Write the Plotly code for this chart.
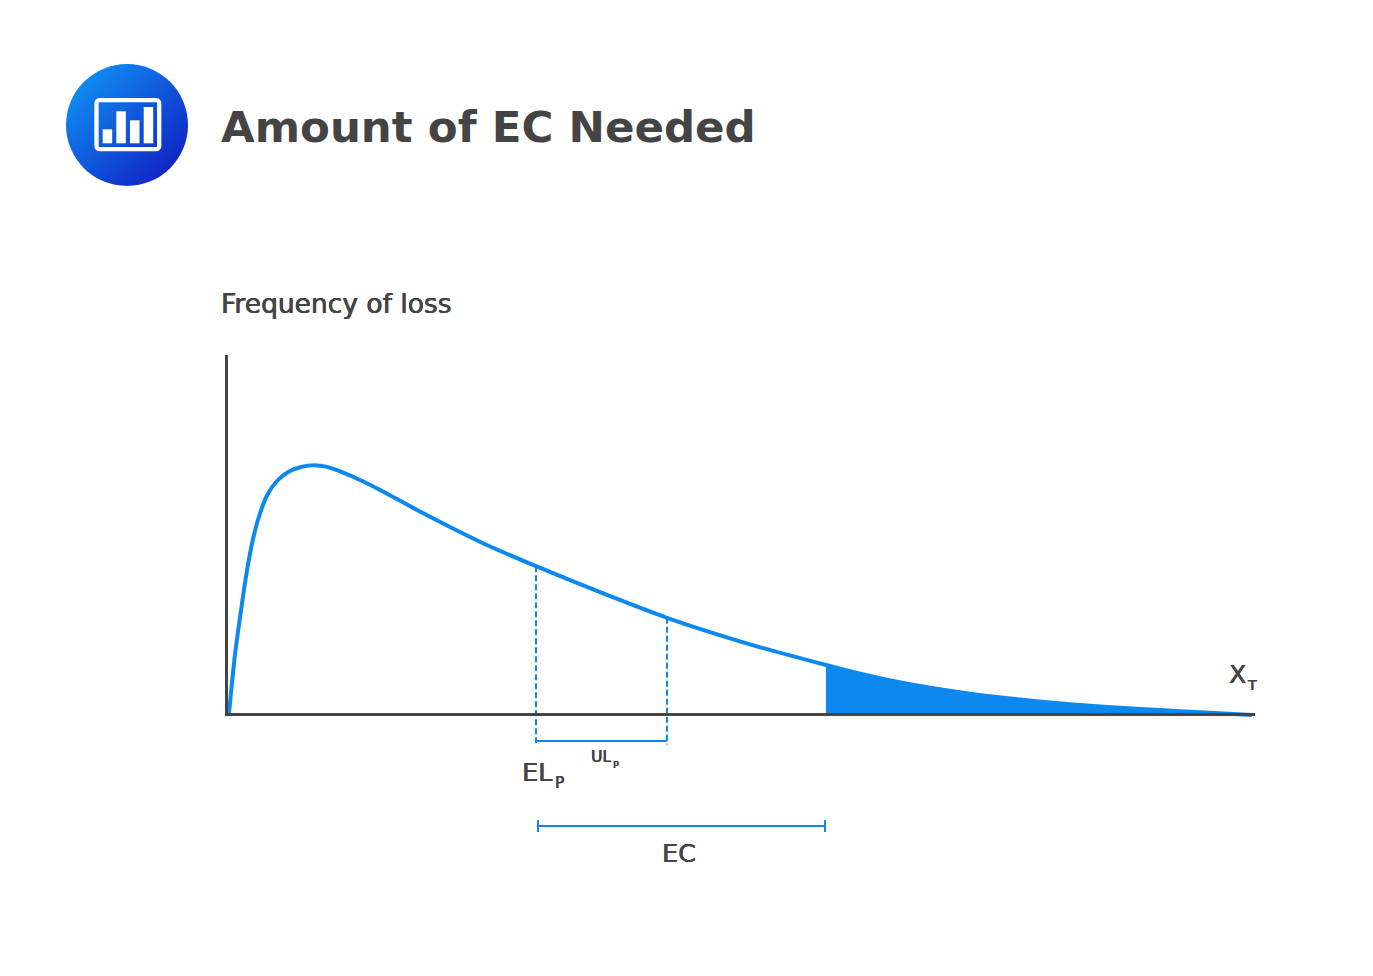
import base64
import plotly.graph_objects as go

# Loss-distribution curve, values
loss = [3, 9, 15, 21, 27, 33, 41, 51, 63, 76, 88, 101, 116, 134, 157, 191, 224, 257, 310, 374, 441,
        524, 600, 627, 661, 694, 727, 761, 794, 827, 861, 894, 934, 974, 1026]
freq = [1.5, 60, 104, 144, 175.5, 198, 219, 233.5, 243, 247.7, 249.2, 247.6, 242.3, 234.5, 223, 204.5,
        187.5, 171.3, 148.3, 122.3, 96.7, 70.2, 49.5, 42.5, 34.8, 28.5, 23.2, 18.6, 14.9, 11.8, 9, 6.8, 4.4, 2.3, -0.5]

axis_x_end = 1029
axis_y_end = 359.5
threshold = 600

el_x = 310
ul_x = 441
ec_start = 312
ec_end = 599
el_height = 148.3
ul_height = 96.7
ul_bracket_y = -26.5
ul_tick_end = -30
ec_bracket_y = -111.5
ec_tick = 6

title = "Amount of EC Needed"
y_label = "Frequency of loss"

BLUE = "#0d88ee"
GREY = "#444444"
FONT = "DejaVu Sans"

icon_svg = """<svg xmlns='http://www.w3.org/2000/svg' width='122' height='122' viewBox='0 0 122 122'>
<defs><linearGradient id='g' x1='0.1' y1='0.1' x2='0.9' y2='0.9'>
<stop offset='0' stop-color='#0f90f3'/><stop offset='1' stop-color='#1020c4'/></linearGradient></defs>
<circle cx='61' cy='61' r='61' fill='url(#g)'/>
<rect x='30.5' y='36.2' width='62.7' height='49' rx='3' fill='none' stroke='white' stroke-width='4.3'/>
<rect x='36.7' y='65.3' width='9.5' height='14' fill='white'/>
<rect x='50.3' y='47.3' width='9.5' height='32' fill='white'/>
<rect x='64' y='56.3' width='9.5' height='23' fill='white'/>
<rect x='77.7' y='43' width='9.5' height='36.3' fill='white'/>
</svg>"""
icon = "data:image/svg+xml;base64," + base64.b64encode(icon_svg.encode()).decode()

tail_loss = [v for v in loss if v >= threshold]
tail_freq = [max(f, 0) for v, f in zip(loss, freq) if v >= threshold]

fig = go.Figure()
fig.add_trace(go.Scatter(x=tail_loss, y=tail_freq, mode="lines", line=dict(color=BLUE, width=0, shape="spline", smoothing=0.6),
                         fill="tozeroy", fillcolor=BLUE, hoverinfo="skip"))
fig.add_trace(go.Scatter(x=loss, y=freq, mode="lines", line=dict(color=BLUE, width=4, shape="spline", smoothing=0.6),
                         hoverinfo="skip"))
fig.add_trace(go.Scatter(x=[el_x, el_x, None, ul_x, ul_x], y=[el_height, ul_tick_end, None, ul_height, ul_tick_end],
                         mode="lines", line=dict(color=BLUE, width=2, dash="6px,3px"), hoverinfo="skip"))
fig.add_trace(go.Scatter(x=[el_x, ul_x], y=[ul_bracket_y, ul_bracket_y], mode="lines",
                         line=dict(color=BLUE, width=2), hoverinfo="skip"))
fig.add_trace(go.Scatter(x=[ec_start, ec_start, None, ec_start, ec_end, None, ec_end, ec_end],
                         y=[ec_bracket_y - ec_tick, ec_bracket_y + ec_tick, None, ec_bracket_y, ec_bracket_y, None,
                            ec_bracket_y - ec_tick, ec_bracket_y + ec_tick],
                         mode="lines", line=dict(color=BLUE, width=2), hoverinfo="skip"))
# Axis lines, drawn over the curve
fig.add_trace(go.Scatter(x=[0, axis_x_end], y=[0, 0], mode="lines", line=dict(color=GREY, width=3), hoverinfo="skip"))
fig.add_trace(go.Scatter(x=[0.5, 0.5], y=[-1.5, axis_y_end], mode="lines", line=dict(color=GREY, width=3),
                         hoverinfo="skip"))

SEMI = "0.45px 0 0 #444444, -0.2px 0 0 #444444"


def px_text(text, x, y, size, weight=400, anchor="left", shadow=SEMI):
    return dict(text=text, x=x, y=y, xref="paper", yref="paper", xanchor=anchor, yanchor="middle", showarrow=False,
                font=dict(family=FONT, size=size, color=GREY, weight=weight, shadow=shadow))


W, H = 1373, 976
L, T = 220, 355
PW, PH = 1036, 485
R, B = W - L - PW, H - T - PH


def fx(p):
    return (p - L) / PW


def fy(p):
    return (H - B - p) / PH


annotations = [
    px_text(title, fx(219), fy(127), 43.5, 700, shadow="none"),
    px_text(y_label, fx(219), fy(304), 26.5),
    px_text("X", fx(1227), fy(674), 25),
    px_text("T", fx(1245), fy(685), 14),
    px_text("EL", fx(520), fy(772), 25.5),
    px_text("P", fx(553), fy(783), 15),
    px_text("UL", fx(589), fy(757), 15.5),
    px_text("P", fx(611), fy(764), 9.5),
    px_text("EC", fx(660), fy(853), 25.5),
]

fig.update_layout(
    width=W, height=H, autosize=False, showlegend=False,
    margin=dict(l=L, r=R, t=T, b=B, pad=0),
    paper_bgcolor="white", plot_bgcolor="white",
    xaxis=dict(range=[-6, PW - 6], visible=False),
    yaxis=dict(range=[-125.5, 359.5], visible=False),
    annotations=annotations,
    images=[dict(source=icon, xref="paper", yref="paper", x=fx(66), y=fy(64), sizex=122 / PW, sizey=122 / PH,
                 xanchor="left", yanchor="top", sizing="stretch", layer="above")],
)
fig.write_html("out.html", config={"displayModeBar": False},
               post_script="document.body.style.margin='0';")
